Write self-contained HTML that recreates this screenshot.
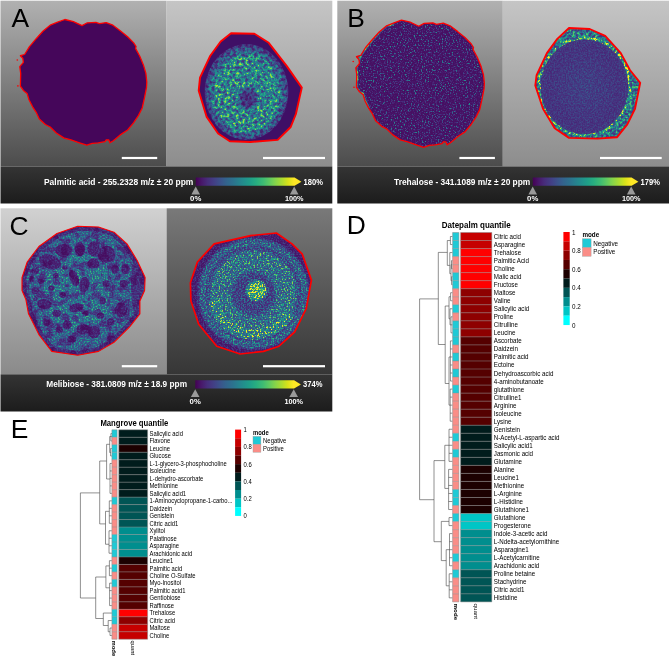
<!DOCTYPE html>
<html><head><meta charset="utf-8"><title>Figure</title>
<style>html,body{margin:0;padding:0;background:#fff;overflow:hidden}svg{display:block}</style></head>
<body>
<svg width="669" height="656" viewBox="0 0 669 656">
<defs>
<linearGradient id="gDark" x1="0" y1="0" x2="0" y2="1"><stop offset="0" stop-color="#b1b1b1"/><stop offset="1" stop-color="#4c4c4c"/></linearGradient>
<linearGradient id="gLight" x1="0" y1="0" x2="0" y2="1"><stop offset="0" stop-color="#c5c5c5"/><stop offset="1" stop-color="#8d8d8d"/></linearGradient>
<linearGradient id="gLightC" x1="0" y1="0" x2="0" y2="1"><stop offset="0" stop-color="#d1d1d1"/><stop offset="1" stop-color="#8a8a8a"/></linearGradient>
<linearGradient id="gDarkC" x1="0" y1="0" x2="0" y2="1"><stop offset="0" stop-color="#797979"/><stop offset="1" stop-color="#363636"/></linearGradient>
<linearGradient id="gBar" x1="0" y1="0" x2="0" y2="1"><stop offset="0" stop-color="#343434"/><stop offset="1" stop-color="#1c1c1c"/></linearGradient>
<linearGradient id="gVir" x1="0" y1="0" x2="0.93" y2="0"><stop offset="0" stop-color="#440154"/><stop offset="0.06" stop-color="#48186a"/><stop offset="0.12" stop-color="#472d7b"/><stop offset="0.19" stop-color="#424086"/><stop offset="0.25" stop-color="#3b528b"/><stop offset="0.31" stop-color="#33638d"/><stop offset="0.38" stop-color="#2c728e"/><stop offset="0.44" stop-color="#26828e"/><stop offset="0.5" stop-color="#21918c"/><stop offset="0.56" stop-color="#1fa088"/><stop offset="0.62" stop-color="#28ae80"/><stop offset="0.69" stop-color="#3fbc73"/><stop offset="0.75" stop-color="#5ec962"/><stop offset="0.81" stop-color="#84d44b"/><stop offset="0.88" stop-color="#addc30"/><stop offset="0.94" stop-color="#d8e219"/><stop offset="1" stop-color="#fde725"/></linearGradient>
<filter id="fB1" x="0" y="0" width="100%" height="100%" color-interpolation-filters="sRGB"><feTurbulence type="fractalNoise" baseFrequency="0.71" numOctaves="2" seed="3" result="t"/><feColorMatrix in="t" type="matrix" values="1.8 0 0 0 -0.4  1.8 0 0 0 -0.4  1.8 0 0 0 -0.4  0 0 0 0 1" result="n0"/><feComponentTransfer in="n0" result="n"><feFuncR type="gamma" exponent="5"/><feFuncG type="gamma" exponent="5"/><feFuncB type="gamma" exponent="5"/></feComponentTransfer><feOffset in="SourceGraphic" result="s"/><feComposite in="s" in2="n" operator="arithmetic" k1="0.85" k2="0.07" k3="0" k4="0" result="m"/><feComponentTransfer in="m" result="v"><feFuncR type="table" tableValues="0.267 0.277 0.282 0.283 0.279 0.271 0.259 0.245 0.230 0.214 0.199 0.186 0.173 0.161 0.149 0.138 0.128 0.121 0.121 0.132 0.158 0.197 0.246 0.304 0.369 0.440 0.516 0.596 0.678 0.762 0.846 0.926 0.993"/><feFuncG type="table" tableValues="0.005 0.050 0.095 0.136 0.175 0.214 0.252 0.288 0.322 0.356 0.388 0.419 0.449 0.479 0.508 0.537 0.567 0.596 0.626 0.655 0.684 0.712 0.739 0.765 0.789 0.811 0.831 0.849 0.864 0.876 0.887 0.897 0.906"/><feFuncB type="table" tableValues="0.329 0.376 0.417 0.453 0.483 0.507 0.525 0.537 0.546 0.551 0.555 0.557 0.558 0.558 0.557 0.555 0.551 0.544 0.533 0.520 0.502 0.479 0.452 0.420 0.383 0.341 0.294 0.243 0.190 0.137 0.100 0.104 0.144"/><feFuncA type="linear" slope="0" intercept="1"/></feComponentTransfer><feComposite in="v" in2="SourceAlpha" operator="in"/></filter>
<filter id="fA2" x="0" y="0" width="100%" height="100%" color-interpolation-filters="sRGB"><feTurbulence type="fractalNoise" baseFrequency="0.33" numOctaves="3" seed="7" result="t"/><feColorMatrix in="t" type="matrix" values="2.1 0 0 0 -0.55  2.1 0 0 0 -0.55  2.1 0 0 0 -0.55  0 0 0 0 1" result="n0"/><feComponentTransfer in="n0" result="n"><feFuncR type="gamma" exponent="1.4"/><feFuncG type="gamma" exponent="1.4"/><feFuncB type="gamma" exponent="1.4"/></feComponentTransfer><feOffset in="SourceGraphic" result="s"/><feComposite in="s" in2="n" operator="arithmetic" k1="1.2" k2="0.27" k3="0" k4="0" result="m"/><feComponentTransfer in="m" result="v"><feFuncR type="table" tableValues="0.267 0.277 0.282 0.283 0.279 0.271 0.259 0.245 0.230 0.214 0.199 0.186 0.173 0.161 0.149 0.138 0.128 0.121 0.121 0.132 0.158 0.197 0.246 0.304 0.369 0.440 0.516 0.596 0.678 0.762 0.846 0.926 0.993"/><feFuncG type="table" tableValues="0.005 0.050 0.095 0.136 0.175 0.214 0.252 0.288 0.322 0.356 0.388 0.419 0.449 0.479 0.508 0.537 0.567 0.596 0.626 0.655 0.684 0.712 0.739 0.765 0.789 0.811 0.831 0.849 0.864 0.876 0.887 0.897 0.906"/><feFuncB type="table" tableValues="0.329 0.376 0.417 0.453 0.483 0.507 0.525 0.537 0.546 0.551 0.555 0.557 0.558 0.558 0.557 0.555 0.551 0.544 0.533 0.520 0.502 0.479 0.452 0.420 0.383 0.341 0.294 0.243 0.190 0.137 0.100 0.104 0.144"/><feFuncA type="linear" slope="0" intercept="1"/></feComponentTransfer><feComposite in="v" in2="SourceAlpha" operator="in"/></filter>
<filter id="fB2" x="0" y="0" width="100%" height="100%" color-interpolation-filters="sRGB"><feTurbulence type="fractalNoise" baseFrequency="0.37" numOctaves="3" seed="11" result="t"/><feColorMatrix in="t" type="matrix" values="2.4 0 0 0 -0.7  2.4 0 0 0 -0.7  2.4 0 0 0 -0.7  0 0 0 0 1" result="n0"/><feComponentTransfer in="n0" result="n"><feFuncR type="gamma" exponent="1.4"/><feFuncG type="gamma" exponent="1.4"/><feFuncB type="gamma" exponent="1.4"/></feComponentTransfer><feOffset in="SourceGraphic" result="s"/><feComposite in="s" in2="n" operator="arithmetic" k1="1.2" k2="0.3" k3="0" k4="0" result="m"/><feComponentTransfer in="m" result="v"><feFuncR type="table" tableValues="0.267 0.277 0.282 0.283 0.279 0.271 0.259 0.245 0.230 0.214 0.199 0.186 0.173 0.161 0.149 0.138 0.128 0.121 0.121 0.132 0.158 0.197 0.246 0.304 0.369 0.440 0.516 0.596 0.678 0.762 0.846 0.926 0.993"/><feFuncG type="table" tableValues="0.005 0.050 0.095 0.136 0.175 0.214 0.252 0.288 0.322 0.356 0.388 0.419 0.449 0.479 0.508 0.537 0.567 0.596 0.626 0.655 0.684 0.712 0.739 0.765 0.789 0.811 0.831 0.849 0.864 0.876 0.887 0.897 0.906"/><feFuncB type="table" tableValues="0.329 0.376 0.417 0.453 0.483 0.507 0.525 0.537 0.546 0.551 0.555 0.557 0.558 0.558 0.557 0.555 0.551 0.544 0.533 0.520 0.502 0.479 0.452 0.420 0.383 0.341 0.294 0.243 0.190 0.137 0.100 0.104 0.144"/><feFuncA type="linear" slope="0" intercept="1"/></feComponentTransfer><feComposite in="v" in2="SourceAlpha" operator="in"/></filter>
<filter id="fB2i" x="0" y="0" width="100%" height="100%" color-interpolation-filters="sRGB"><feTurbulence type="fractalNoise" baseFrequency="0.63" numOctaves="2" seed="13" result="t"/><feColorMatrix in="t" type="matrix" values="2.2 0 0 0 -0.6  2.2 0 0 0 -0.6  2.2 0 0 0 -0.6  0 0 0 0 1" result="n0"/><feComponentTransfer in="n0" result="n"><feFuncR type="gamma" exponent="1.6"/><feFuncG type="gamma" exponent="1.6"/><feFuncB type="gamma" exponent="1.6"/></feComponentTransfer><feOffset in="SourceGraphic" result="s"/><feComposite in="s" in2="n" operator="arithmetic" k1="0.7" k2="0.65" k3="0" k4="0" result="m"/><feComponentTransfer in="m" result="v"><feFuncR type="table" tableValues="0.267 0.277 0.282 0.283 0.279 0.271 0.259 0.245 0.230 0.214 0.199 0.186 0.173 0.161 0.149 0.138 0.128 0.121 0.121 0.132 0.158 0.197 0.246 0.304 0.369 0.440 0.516 0.596 0.678 0.762 0.846 0.926 0.993"/><feFuncG type="table" tableValues="0.005 0.050 0.095 0.136 0.175 0.214 0.252 0.288 0.322 0.356 0.388 0.419 0.449 0.479 0.508 0.537 0.567 0.596 0.626 0.655 0.684 0.712 0.739 0.765 0.789 0.811 0.831 0.849 0.864 0.876 0.887 0.897 0.906"/><feFuncB type="table" tableValues="0.329 0.376 0.417 0.453 0.483 0.507 0.525 0.537 0.546 0.551 0.555 0.557 0.558 0.558 0.557 0.555 0.551 0.544 0.533 0.520 0.502 0.479 0.452 0.420 0.383 0.341 0.294 0.243 0.190 0.137 0.100 0.104 0.144"/><feFuncA type="linear" slope="0" intercept="1"/></feComponentTransfer><feComposite in="v" in2="SourceAlpha" operator="in"/></filter>
<filter id="fC2" x="0" y="0" width="100%" height="100%" color-interpolation-filters="sRGB"><feTurbulence type="fractalNoise" baseFrequency="0.63" numOctaves="2" seed="19" result="t"/><feColorMatrix in="t" type="matrix" values="2.6 0 0 0 -0.8  2.6 0 0 0 -0.8  2.6 0 0 0 -0.8  0 0 0 0 1" result="n0"/><feComponentTransfer in="n0" result="n"><feFuncR type="gamma" exponent="2.2"/><feFuncG type="gamma" exponent="2.2"/><feFuncB type="gamma" exponent="2.2"/></feComponentTransfer><feGaussianBlur in="SourceGraphic" stdDeviation="0.7" result="s"/><feComposite in="s" in2="n" operator="arithmetic" k1="1.35" k2="0.45" k3="0" k4="0" result="m"/><feComponentTransfer in="m" result="v"><feFuncR type="table" tableValues="0.267 0.277 0.282 0.283 0.279 0.271 0.259 0.245 0.230 0.214 0.199 0.186 0.173 0.161 0.149 0.138 0.128 0.121 0.121 0.132 0.158 0.197 0.246 0.304 0.369 0.440 0.516 0.596 0.678 0.762 0.846 0.926 0.993"/><feFuncG type="table" tableValues="0.005 0.050 0.095 0.136 0.175 0.214 0.252 0.288 0.322 0.356 0.388 0.419 0.449 0.479 0.508 0.537 0.567 0.596 0.626 0.655 0.684 0.712 0.739 0.765 0.789 0.811 0.831 0.849 0.864 0.876 0.887 0.897 0.906"/><feFuncB type="table" tableValues="0.329 0.376 0.417 0.453 0.483 0.507 0.525 0.537 0.546 0.551 0.555 0.557 0.558 0.558 0.557 0.555 0.551 0.544 0.533 0.520 0.502 0.479 0.452 0.420 0.383 0.341 0.294 0.243 0.190 0.137 0.100 0.104 0.144"/><feFuncA type="linear" slope="0" intercept="1"/></feComponentTransfer><feComposite in="v" in2="SourceAlpha" operator="in"/></filter>
<filter id="fC1" x="0" y="0" width="100%" height="100%" color-interpolation-filters="sRGB"><feTurbulence type="fractalNoise" baseFrequency="0.63" numOctaves="2" seed="23" result="t"/><feColorMatrix in="t" type="matrix" values="2.4 0 0 0 -0.7  2.4 0 0 0 -0.7  2.4 0 0 0 -0.7  0 0 0 0 1" result="n0"/><feComponentTransfer in="n0" result="n"><feFuncR type="gamma" exponent="2.2"/><feFuncG type="gamma" exponent="2.2"/><feFuncB type="gamma" exponent="2.2"/></feComponentTransfer><feGaussianBlur in="SourceGraphic" stdDeviation="0.7" result="s0"/><feTurbulence type="fractalNoise" baseFrequency="0.13" numOctaves="2" seed="5" result="bt"/><feColorMatrix in="bt" type="matrix" values="8 0 0 0 -3.1  8 0 0 0 -3.1  8 0 0 0 -3.1  0 0 0 0 1" result="b0"/><feComponentTransfer in="b0" result="b1"><feFuncR type="linear" slope="0.55" intercept="0.45"/><feFuncG type="linear" slope="0.55" intercept="0.45"/><feFuncB type="linear" slope="0.55" intercept="0.45"/></feComponentTransfer><feComposite in="s0" in2="b1" operator="arithmetic" k1="1" k2="0" k3="0" k4="0" result="s"/><feComposite in="s" in2="n" operator="arithmetic" k1="1" k2="0.6" k3="0" k4="0" result="m"/><feComponentTransfer in="m" result="v"><feFuncR type="table" tableValues="0.267 0.277 0.282 0.283 0.279 0.271 0.259 0.245 0.230 0.214 0.199 0.186 0.173 0.161 0.149 0.138 0.128 0.121 0.121 0.132 0.158 0.197 0.246 0.304 0.369 0.440 0.516 0.596 0.678 0.762 0.846 0.926 0.993"/><feFuncG type="table" tableValues="0.005 0.050 0.095 0.136 0.175 0.214 0.252 0.288 0.322 0.356 0.388 0.419 0.449 0.479 0.508 0.537 0.567 0.596 0.626 0.655 0.684 0.712 0.739 0.765 0.789 0.811 0.831 0.849 0.864 0.876 0.887 0.897 0.906"/><feFuncB type="table" tableValues="0.329 0.376 0.417 0.453 0.483 0.507 0.525 0.537 0.546 0.551 0.555 0.557 0.558 0.558 0.557 0.555 0.551 0.544 0.533 0.520 0.502 0.479 0.452 0.420 0.383 0.341 0.294 0.243 0.190 0.137 0.100 0.104 0.144"/><feFuncA type="linear" slope="0" intercept="1"/></feComponentTransfer><feComposite in="v" in2="SourceAlpha" operator="in"/></filter>
<radialGradient id="rA2" cx="0.5" cy="0.5" r="0.5" fx="0.52" fy="0.59"><stop offset="0" stop-color="#2a2a2a"/><stop offset="0.15" stop-color="#343434"/><stop offset="0.27" stop-color="#929292"/><stop offset="0.75" stop-color="#9a9a9a"/><stop offset="0.88" stop-color="#606060"/><stop offset="1" stop-color="#343434"/></radialGradient>
<radialGradient id="rB2" cx="0.5" cy="0.5" r="0.5"><stop offset="0" stop-color="#363636"/><stop offset="0.85" stop-color="#2a2a2a"/><stop offset="1" stop-color="#2e2e2e"/></radialGradient>
<radialGradient id="rC2" cx="0.5" cy="0.5" r="0.5"><stop offset="0" stop-color="#404040"/><stop offset="0.34" stop-color="#3c3c3c"/><stop offset="0.43" stop-color="#6e6e6e"/><stop offset="0.73" stop-color="#767676"/><stop offset="0.78" stop-color="#4a4a4a"/><stop offset="0.82" stop-color="#404040"/><stop offset="0.86" stop-color="#626262"/><stop offset="0.94" stop-color="#585858"/><stop offset="1" stop-color="#202020"/></radialGradient>
<radialGradient id="rC2c" cx="0.5" cy="0.5" r="0.5"><stop offset="0" stop-color="#e8e8e8"/><stop offset="0.6" stop-color="#c8c8c8"/><stop offset="0.85" stop-color="#8c8c8c"/><stop offset="1" stop-color="#4c4c4c"/></radialGradient>
<radialGradient id="rC1" cx="0.5" cy="0.5" r="0.5"><stop offset="0" stop-color="#909090"/><stop offset="0.8" stop-color="#808080"/><stop offset="0.93" stop-color="#606060"/><stop offset="1" stop-color="#383838"/></radialGradient>
<clipPath id="cA2"><polygon points="231.1,33.2 254.4,33.7 268.7,42.8 286.8,66.1 301.8,87.6 295.9,114 290.7,127 277.7,139.9 250.5,142 229.8,141.2 218.1,133.5 206.5,116.6 198.7,90.7 200,77.7 210.3,55.7 220.7,41.5"/></clipPath>
<clipPath id="cB1"><polygon points="401.48,20.05 410.08,22.18 418.79,26.22 424.15,23.39 432.85,22.98 436.5,24.3 443.28,23.19 450.06,25.82 457.45,31.38 464.94,37.56 471.11,43.73 473.54,47.48 472.93,49.3 477.28,57.29 480.92,65.99 483.45,74.6 484.37,83.3 484.06,88.66 482.14,98.58 479.71,109.61 475.97,117.1 471.11,124.49 464.94,131.88 457.45,136.83 452.59,141.09 450.06,143.01 447.02,144.83 445.81,141.79 443.28,141.79 442.06,143.62 435.28,144.83 429.11,145.44 423.65,147.26 416.26,144.83 407.66,141.79 400.27,139.87 392.78,134.91 386.61,128.84 381.75,126.31 375.58,120.74 372.44,113.96 368.8,108.4 365.05,101.01 363.23,94.84 359.48,91.8 356.45,87.45 356.75,74.6 355.84,67.82 359.48,63.46 358.88,59.21 356.45,56.68 360.7,55.47 365.66,47.48 372.44,39.48 379.22,31.99 386.61,25.82 394.1,22.78"/></clipPath>
<clipPath id="cB2"><polygon points="569,28 589.7,29 605.2,35.8 620.8,53.1 629.9,70 640.2,82.9 635,108.8 627.3,124.4 616.9,137.3 597.5,138.6 569,137.9 554.7,128.3 543,108.8 535.3,85.5 536.6,75.1 546.9,53.1 557.3,38.9"/></clipPath>
<clipPath id="cC1"><polygon points="77.7,226.2 98.5,227 114,232.2 127,243.9 137.3,260.7 145.1,277.6 144.6,290.5 139.9,300.9 139.9,313.8 129.6,326.8 114,342.3 98.5,351.4 77.7,355.3 51.8,351.4 38.9,334.6 28.5,313.8 25.9,299.6 22,290.5 22,277.6 27.2,262 38.9,246.5 57,233.5"/></clipPath>
<clipPath id="cC2"><polygon points="250.5,235.6 276.4,233 292,243.9 302.3,254.2 311.4,280.1 306.2,308.7 294.6,332 279,346.2 263.5,351.4 240.1,354 216.8,346.2 198.7,324.2 190.9,300.9 190.4,282.7 197.4,262 214.2,243.9"/></clipPath>
</defs>
<rect x="0.5" y="0.7" width="166.1" height="165.7" fill="url(#gDark)"/>
<rect x="166.6" y="0.7" width="165.7" height="165.7" fill="url(#gLight)"/>
<rect x="0.5" y="166.4" width="331.8" height="37.1" fill="url(#gBar)"/>
<polygon points="64.9,19.5 73.4,21.6 82,25.6 87.3,22.8 95.9,22.4 99.5,23.7 106.2,22.6 112.9,25.2 120.2,30.7 127.6,36.8 133.7,42.9 136.1,46.6 135.5,48.4 139.8,56.3 143.4,64.9 145.9,73.4 146.8,82 146.5,87.3 144.6,97.1 142.2,108 138.5,115.4 133.7,122.7 127.6,130 120.2,134.9 115.4,139.1 112.9,141 109.9,142.8 108.7,139.8 106.2,139.8 105,141.6 98.3,142.8 92.2,143.4 86.8,145.2 79.5,142.8 71,139.8 63.7,137.9 56.3,133 50.2,127 45.4,124.5 39.3,119 36.2,112.3 32.6,106.8 28.9,99.5 27.1,93.4 23.4,90.4 20.4,86.1 20.7,73.4 19.8,66.7 23.4,62.4 22.8,58.2 20.4,55.7 24.6,54.5 29.5,46.6 36.2,38.7 42.9,31.3 50.2,25.2 57.6,22.2" fill="#45065a" stroke="#ff0000" stroke-width="1.3" stroke-linejoin="round"/>
<circle cx="17.3" cy="60" r="0.8" fill="#ff0000"/><circle cx="17.9" cy="85.9" r="0.8" fill="#ff0000"/>
<polygon points="231.1,33.2 254.4,33.7 268.7,42.8 286.8,66.1 301.8,87.6 295.9,114 290.7,127 277.7,139.9 250.5,142 229.8,141.2 218.1,133.5 206.5,116.6 198.7,90.7 200,77.7 210.3,55.7 220.7,41.5" fill="#3f0f66"/>
<g clip-path="url(#cA2)"><g filter="url(#fA2)"><ellipse cx="246.5" cy="92" rx="42" ry="48" fill="url(#rA2)"/></g></g>
<polygon points="231.1,33.2 254.4,33.7 268.7,42.8 286.8,66.1 301.8,87.6 295.9,114 290.7,127 277.7,139.9 250.5,142 229.8,141.2 218.1,133.5 206.5,116.6 198.7,90.7 200,77.7 210.3,55.7 220.7,41.5" fill="none" stroke="#ff0000" stroke-width="1.9" stroke-linejoin="round"/>
<rect x="121.8" y="156.9" width="35.4" height="2.2" fill="#fff"/>
<rect x="263" y="156.9" width="62" height="2.2" fill="#fff"/>
<text x="11.4" y="26.8" font-size="26.4" font-family="Liberation Sans, sans-serif" fill="#000">A</text>
<text x="44" y="184.5" font-size="8.6" font-family="Liberation Sans, sans-serif" font-weight="bold" fill="#fff" textLength="149.3" lengthAdjust="spacingAndGlyphs">Palmitic acid - 255.2328 m/z ± 20 ppm</text>
<path d="M195.8 177.6H294.6L301.4 181.7L294.6 185.8H195.8Z" fill="url(#gVir)"/>
<path d="M195.7 186.6L200 194.4H191.4Z" fill="#9a9a9a"/>
<text x="195.7" y="201.2" font-size="8.1" text-anchor="middle" font-family="Liberation Sans, sans-serif" font-weight="bold" fill="#fff" textLength="11.2" lengthAdjust="spacingAndGlyphs">0%</text>
<path d="M294.2 186.6L298.5 194.4H289.9Z" fill="#9a9a9a"/>
<text x="294.2" y="201.2" font-size="8.1" text-anchor="middle" font-family="Liberation Sans, sans-serif" font-weight="bold" fill="#fff" textLength="18.6" lengthAdjust="spacingAndGlyphs">100%</text>
<text x="303.6" y="184.7" font-size="9" font-family="Liberation Sans, sans-serif" font-weight="bold" fill="#fff" textLength="19.4" lengthAdjust="spacingAndGlyphs">180%</text>
<rect x="337.3" y="0.7" width="165.5" height="165.7" fill="url(#gDark)"/>
<rect x="502.8" y="0.7" width="166.2" height="165.7" fill="url(#gLight)"/>
<rect x="337.3" y="166.4" width="331.7" height="37.1" fill="url(#gBar)"/>
<g filter="url(#fB1)"><polygon points="401.48,20.05 410.08,22.18 418.79,26.22 424.15,23.39 432.85,22.98 436.5,24.3 443.28,23.19 450.06,25.82 457.45,31.38 464.94,37.56 471.11,43.73 473.54,47.48 472.93,49.3 477.28,57.29 480.92,65.99 483.45,74.6 484.37,83.3 484.06,88.66 482.14,98.58 479.71,109.61 475.97,117.1 471.11,124.49 464.94,131.88 457.45,136.83 452.59,141.09 450.06,143.01 447.02,144.83 445.81,141.79 443.28,141.79 442.06,143.62 435.28,144.83 429.11,145.44 423.65,147.26 416.26,144.83 407.66,141.79 400.27,139.87 392.78,134.91 386.61,128.84 381.75,126.31 375.58,120.74 372.44,113.96 368.8,108.4 365.05,101.01 363.23,94.84 359.48,91.8 356.45,87.45 356.75,74.6 355.84,67.82 359.48,63.46 358.88,59.21 356.45,56.68 360.7,55.47 365.66,47.48 372.44,39.48 379.22,31.99 386.61,25.82 394.1,22.78" fill="#808080"/></g>
<g clip-path="url(#cB1)"><g filter="url(#fB2)"><polyline points="394.1,22.78 386.61,25.82 379.22,31.99 372.44,39.48 365.66,47.48 360.7,55.47 358.88,59.21 355.84,67.82 356.75,74.6 356.45,87.45 359.48,91.8 363.23,94.84 365.05,101.01 368.8,108.4" fill="none" stroke="#8c8c8c" stroke-width="3.4" stroke-linejoin="round"/></g></g>
<polygon points="401.48,20.05 410.08,22.18 418.79,26.22 424.15,23.39 432.85,22.98 436.5,24.3 443.28,23.19 450.06,25.82 457.45,31.38 464.94,37.56 471.11,43.73 473.54,47.48 472.93,49.3 477.28,57.29 480.92,65.99 483.45,74.6 484.37,83.3 484.06,88.66 482.14,98.58 479.71,109.61 475.97,117.1 471.11,124.49 464.94,131.88 457.45,136.83 452.59,141.09 450.06,143.01 447.02,144.83 445.81,141.79 443.28,141.79 442.06,143.62 435.28,144.83 429.11,145.44 423.65,147.26 416.26,144.83 407.66,141.79 400.27,139.87 392.78,134.91 386.61,128.84 381.75,126.31 375.58,120.74 372.44,113.96 368.8,108.4 365.05,101.01 363.23,94.84 359.48,91.8 356.45,87.45 356.75,74.6 355.84,67.82 359.48,63.46 358.88,59.21 356.45,56.68 360.7,55.47 365.66,47.48 372.44,39.48 379.22,31.99 386.61,25.82 394.1,22.78" fill="none" stroke="#ff0000" stroke-width="1.3" stroke-linejoin="round"/>
<circle cx="353.2" cy="61.5" r="0.8" fill="#ff0000"/><circle cx="354" cy="87.3" r="0.8" fill="#ff0000"/>
<g clip-path="url(#cB2)"><g filter="url(#fB2)"><rect x="530" y="24" width="114" height="118" fill="#7e7e7e"/><ellipse cx="584.5" cy="86.8" rx="45" ry="48.5" fill="none" stroke="#b8b8b8" stroke-width="3"/></g><g filter="url(#fB2i)"><ellipse cx="584.5" cy="86.8" rx="43.8" ry="47.3" fill="url(#rB2)"/></g></g>
<polygon points="569,28 589.7,29 605.2,35.8 620.8,53.1 629.9,70 640.2,82.9 635,108.8 627.3,124.4 616.9,137.3 597.5,138.6 569,137.9 554.7,128.3 543,108.8 535.3,85.5 536.6,75.1 546.9,53.1 557.3,38.9" fill="none" stroke="#ff0000" stroke-width="1.9" stroke-linejoin="round"/>
<rect x="459.4" y="156.9" width="35.5" height="2.2" fill="#fff"/>
<rect x="600" y="156.9" width="61.7" height="2.2" fill="#fff"/>
<text x="347.3" y="26.8" font-size="26.4" font-family="Liberation Sans, sans-serif" fill="#000">B</text>
<text x="394" y="184.5" font-size="8.6" font-family="Liberation Sans, sans-serif" font-weight="bold" fill="#fff" textLength="136.3" lengthAdjust="spacingAndGlyphs">Trehalose - 341.1089 m/z ± 20 ppm</text>
<path d="M532.8 177.6H631.6L638.4 181.7L631.6 185.8H532.8Z" fill="url(#gVir)"/>
<path d="M532.7 186.6L537 194.4H528.4Z" fill="#9a9a9a"/>
<text x="532.7" y="201.2" font-size="8.1" text-anchor="middle" font-family="Liberation Sans, sans-serif" font-weight="bold" fill="#fff" textLength="11.2" lengthAdjust="spacingAndGlyphs">0%</text>
<path d="M631.2 186.6L635.5 194.4H626.9Z" fill="#9a9a9a"/>
<text x="631.2" y="201.2" font-size="8.1" text-anchor="middle" font-family="Liberation Sans, sans-serif" font-weight="bold" fill="#fff" textLength="18.6" lengthAdjust="spacingAndGlyphs">100%</text>
<text x="640.6" y="184.7" font-size="9" font-family="Liberation Sans, sans-serif" font-weight="bold" fill="#fff" textLength="19.4" lengthAdjust="spacingAndGlyphs">179%</text>
<rect x="0.5" y="208.3" width="166.1" height="166" fill="url(#gLightC)"/>
<rect x="166.6" y="208.3" width="165.7" height="166" fill="url(#gDarkC)"/>
<rect x="0.5" y="374.3" width="331.8" height="37.2" fill="url(#gBar)"/>
<g clip-path="url(#cC1)"><g filter="url(#fC1)"><rect x="15" y="220" width="140" height="142" fill="#5e5e5e"/><ellipse cx="78" cy="292" rx="34" ry="38" fill="#747474" opacity="0.7"/><ellipse cx="63.74" cy="250.44" rx="8.73" ry="6.54" fill="#1e1e1e"/><ellipse cx="50.02" cy="261.88" rx="11.48" ry="7.09" fill="#1e1e1e" transform="rotate(20 50.02 261.88)"/><ellipse cx="79.75" cy="249.3" rx="5.16" ry="7.36" fill="#1e1e1e"/><ellipse cx="93.47" cy="248.84" rx="6.26" ry="7.36" fill="#1e1e1e"/><ellipse cx="106.5" cy="254.33" rx="8.73" ry="8.73" fill="#1e1e1e"/><ellipse cx="35.15" cy="271.03" rx="3.79" ry="3.24" fill="#1e1e1e"/><ellipse cx="74.03" cy="277.89" rx="4.34" ry="8.73" fill="#1e1e1e" transform="rotate(-20 74.03 277.89)"/><ellipse cx="84.32" cy="284.75" rx="5.16" ry="8.18" fill="#1e1e1e" transform="rotate(10 84.32 284.75)"/><ellipse cx="93.47" cy="263.48" rx="5.99" ry="5.16" fill="#1e1e1e"/><ellipse cx="115.19" cy="269.42" rx="3.79" ry="4.34" fill="#1e1e1e"/><ellipse cx="44.3" cy="304.18" rx="7.36" ry="5.16" fill="#1e1e1e" transform="rotate(10 44.3 304.18)"/><ellipse cx="35.15" cy="290.46" rx="3.79" ry="3.79" fill="#1e1e1e"/><ellipse cx="76.32" cy="307.61" rx="7.36" ry="4.34" fill="#1e1e1e" transform="rotate(-15 76.32 307.61)"/><ellipse cx="56.88" cy="313.33" rx="4.62" ry="3.79" fill="#1e1e1e"/><ellipse cx="67.17" cy="324.76" rx="4.62" ry="4.62" fill="#1e1e1e"/><ellipse cx="59.17" cy="329.8" rx="3.79" ry="3.24" fill="#1e1e1e"/><ellipse cx="83.18" cy="329.34" rx="7.09" ry="5.16" fill="#1e1e1e"/><ellipse cx="94.15" cy="332.08" rx="6.26" ry="6.26" fill="#1e1e1e"/><ellipse cx="120.91" cy="309.9" rx="6.26" ry="7.36" fill="#1e1e1e"/><ellipse cx="110.62" cy="321.79" rx="3.79" ry="3.79" fill="#1e1e1e"/><ellipse cx="102.61" cy="300.75" rx="3.24" ry="3.79" fill="#1e1e1e"/><ellipse cx="51.16" cy="288.18" rx="3.24" ry="2.7" fill="#1e1e1e"/><ellipse cx="40.87" cy="281.32" rx="3.24" ry="2.7" fill="#1e1e1e"/><ellipse cx="46.59" cy="322.48" rx="3.79" ry="3.24" fill="#1e1e1e"/><ellipse cx="71.74" cy="338.94" rx="4.62" ry="3.52" fill="#1e1e1e"/><ellipse cx="123.88" cy="283.6" rx="4.34" ry="3.79" fill="#1e1e1e"/><ellipse cx="125.48" cy="268.74" rx="4.34" ry="5.44" fill="#1e1e1e"/><ellipse cx="106.04" cy="283.6" rx="3.79" ry="3.24" fill="#1e1e1e"/><ellipse cx="100.33" cy="315.62" rx="3.79" ry="3.24" fill="#1e1e1e"/><ellipse cx="85.46" cy="313.33" rx="3.24" ry="2.7" fill="#1e1e1e"/><ellipse cx="110.62" cy="338.49" rx="4.34" ry="3.24" fill="#1e1e1e"/><ellipse cx="62.6" cy="295.04" rx="3.24" ry="2.97" fill="#1e1e1e"/><ellipse cx="31.72" cy="279.03" rx="2.7" ry="3.24" fill="#1e1e1e"/><ellipse cx="55.74" cy="275.6" rx="3.24" ry="2.7" fill="#1e1e1e"/><ellipse cx="64.88" cy="267.6" rx="2.97" ry="2.42" fill="#1e1e1e"/><polygon points="77.7,226.2 98.5,227 114,232.2 127,243.9 137.3,260.7 145.1,277.6 144.6,290.5 139.9,300.9 139.9,313.8 129.6,326.8 114,342.3 98.5,351.4 77.7,355.3 51.8,351.4 38.9,334.6 28.5,313.8 25.9,299.6 22,290.5 22,277.6 27.2,262 38.9,246.5 57,233.5" fill="none" stroke="#262626" stroke-width="9" stroke-linejoin="round"/><ellipse cx="140" cy="285" rx="9" ry="38" fill="#2a2a2a"/></g></g>
<polygon points="77.7,226.2 98.5,227 114,232.2 127,243.9 137.3,260.7 145.1,277.6 144.6,290.5 139.9,300.9 139.9,313.8 129.6,326.8 114,342.3 98.5,351.4 77.7,355.3 51.8,351.4 38.9,334.6 28.5,313.8 25.9,299.6 22,290.5 22,277.6 27.2,262 38.9,246.5 57,233.5" fill="none" stroke="#ff0000" stroke-width="1.1" stroke-linejoin="round"/>
<g clip-path="url(#cC2)"><g filter="url(#fC2)"><rect x="185" y="228" width="132" height="130" fill="#1c1c1c"/><circle cx="253.6" cy="293.7" r="57" fill="url(#rC2)"/><path d="M213 300A41 41 0 0 0 290 312" fill="none" stroke="#a4a4a4" stroke-width="11" opacity="0.6"/><circle cx="256.4" cy="290.7" r="11.5" fill="url(#rC2c)"/></g></g>
<polygon points="250.5,235.6 276.4,233 292,243.9 302.3,254.2 311.4,280.1 306.2,308.7 294.6,332 279,346.2 263.5,351.4 240.1,354 216.8,346.2 198.7,324.2 190.9,300.9 190.4,282.7 197.4,262 214.2,243.9" fill="none" stroke="#ff0000" stroke-width="1.7" stroke-linejoin="round"/>
<rect x="121.8" y="365.1" width="35.4" height="2.2" fill="#fff"/>
<rect x="263" y="365.1" width="62" height="2.2" fill="#fff"/>
<text x="9.6" y="234.8" font-size="26.4" font-family="Liberation Sans, sans-serif" fill="#000">C</text>
<text x="46.3" y="387.2" font-size="8.6" font-family="Liberation Sans, sans-serif" font-weight="bold" fill="#fff" textLength="140.7" lengthAdjust="spacingAndGlyphs">Melibiose - 381.0809 m/z ± 18.9 ppm</text>
<path d="M195.3 380.3H294.1L300.9 384.4L294.1 388.5H195.3Z" fill="url(#gVir)"/>
<path d="M195.2 389.3L199.5 397.1H190.9Z" fill="#9a9a9a"/>
<text x="195.2" y="403.9" font-size="8.1" text-anchor="middle" font-family="Liberation Sans, sans-serif" font-weight="bold" fill="#fff" textLength="11.2" lengthAdjust="spacingAndGlyphs">0%</text>
<path d="M293.7 389.3L298 397.1H289.4Z" fill="#9a9a9a"/>
<text x="293.7" y="403.9" font-size="8.1" text-anchor="middle" font-family="Liberation Sans, sans-serif" font-weight="bold" fill="#fff" textLength="18.6" lengthAdjust="spacingAndGlyphs">100%</text>
<text x="303.1" y="387.4" font-size="9" font-family="Liberation Sans, sans-serif" font-weight="bold" fill="#fff" textLength="19.4" lengthAdjust="spacingAndGlyphs">374%</text>
<text x="346.8" y="234.4" font-size="26.4" font-family="Liberation Sans, sans-serif" fill="#000">D</text>
<text x="10.8" y="438" font-size="26.4" font-family="Liberation Sans, sans-serif" fill="#000">E</text>
<path d="M438.3 298.9H419.6V499.7H434M447.3 252.4H438.3V344.5H445.2M450.4 240.53H447.3V265.4H449.8M452.5 236.51H450.4V244.54H452.5M452.5 252.57H449.8V273.65H451M451.5 264.62H451V280.68H451.6M452.5 260.61H451.5V268.63H452.5M452.5 276.67H451.6V284.69H452.5M449 306H445.2V383.5H449M450.6 296.74H449V318.81H450M452.5 292.73H450.6V300.75H452.5M452.5 308.78H450V324.85H451M452.5 316.81H451V332.88H452.5M451 324.85H452.5M450.4 356.96H449V405.14H450.2M452.5 340.9H450.4V381.05H452.5M450.4 348.94H452.5M450.4 356.96H452.5M450.4 365H452.5M450.4 373.02H452.5M452.5 389.08H450.2V421.2H452.5M450.2 397.12H452.5M450.2 405.14H452.5M450.2 413.17H452.5M444.8 460.6H434V541.7H441.3M449 445.29H444.8V488.44H448.6M452.5 429.24H449V461.36H452.5M449 437.26H452.5M449 445.29H452.5M449 453.32H452.5M452.5 469.38H448.6V509.53H452.5M448.6 477.41H452.5M448.6 485.44H452.5M448.6 493.47H452.5M448.6 501.5H452.5M449 521.4H441.3V560.6H446.2M452.5 517.57H449V525.6H452.5M449.5 549.68H446.2V585.8H449.2M452.5 533.62H449.5V565.74H452.5M449.5 541.65H452.5M449.5 549.68H452.5M449.5 557.71H452.5M452.5 573.77H449.2V597.87H452.5M449.2 581.8H452.5M449.2 589.84H452.5" fill="none" stroke="#4a4a4a" stroke-width="0.62"/>
<rect x="452.6" y="232.5" width="6.3" height="8.03" fill="#1fcad6"/>
<rect x="460.6" y="232.5" width="31.2" height="8.03" fill="#c60000"/>
<rect x="452.6" y="240.53" width="6.3" height="8.03" fill="#1fcad6"/>
<rect x="460.6" y="240.53" width="31.2" height="8.03" fill="#c60000"/>
<rect x="452.6" y="248.56" width="6.3" height="8.03" fill="#1fcad6"/>
<rect x="460.6" y="248.56" width="31.2" height="8.03" fill="#ff0000"/>
<rect x="452.6" y="256.59" width="6.3" height="8.03" fill="#fa8d87"/>
<rect x="460.6" y="256.59" width="31.2" height="8.03" fill="#ff0000"/>
<rect x="452.6" y="264.62" width="6.3" height="8.03" fill="#fa8d87"/>
<rect x="460.6" y="264.62" width="31.2" height="8.03" fill="#ff0000"/>
<rect x="452.6" y="272.65" width="6.3" height="8.03" fill="#1fcad6"/>
<rect x="460.6" y="272.65" width="31.2" height="8.03" fill="#ff0000"/>
<rect x="452.6" y="280.68" width="6.3" height="8.03" fill="#1fcad6"/>
<rect x="460.6" y="280.68" width="31.2" height="8.03" fill="#ff0000"/>
<rect x="452.6" y="288.71" width="6.3" height="8.03" fill="#fa8d87"/>
<rect x="460.6" y="288.71" width="31.2" height="8.03" fill="#8e0000"/>
<rect x="452.6" y="296.74" width="6.3" height="8.03" fill="#fa8d87"/>
<rect x="460.6" y="296.74" width="31.2" height="8.03" fill="#8e0000"/>
<rect x="452.6" y="304.77" width="6.3" height="8.03" fill="#1fcad6"/>
<rect x="460.6" y="304.77" width="31.2" height="8.03" fill="#8e0000"/>
<rect x="452.6" y="312.8" width="6.3" height="8.03" fill="#fa8d87"/>
<rect x="460.6" y="312.8" width="31.2" height="8.03" fill="#8e0000"/>
<rect x="452.6" y="320.83" width="6.3" height="8.03" fill="#1fcad6"/>
<rect x="460.6" y="320.83" width="31.2" height="8.03" fill="#8e0000"/>
<rect x="452.6" y="328.86" width="6.3" height="8.03" fill="#1fcad6"/>
<rect x="460.6" y="328.86" width="31.2" height="8.03" fill="#8e0000"/>
<rect x="452.6" y="336.89" width="6.3" height="8.03" fill="#1fcad6"/>
<rect x="460.6" y="336.89" width="31.2" height="8.03" fill="#550000"/>
<rect x="452.6" y="344.92" width="6.3" height="8.03" fill="#fa8d87"/>
<rect x="460.6" y="344.92" width="31.2" height="8.03" fill="#550000"/>
<rect x="452.6" y="352.95" width="6.3" height="8.03" fill="#1fcad6"/>
<rect x="460.6" y="352.95" width="31.2" height="8.03" fill="#550000"/>
<rect x="452.6" y="360.98" width="6.3" height="8.03" fill="#fa8d87"/>
<rect x="460.6" y="360.98" width="31.2" height="8.03" fill="#550000"/>
<rect x="452.6" y="369.01" width="6.3" height="8.03" fill="#1fcad6"/>
<rect x="460.6" y="369.01" width="31.2" height="8.03" fill="#550000"/>
<rect x="452.6" y="377.04" width="6.3" height="8.03" fill="#fa8d87"/>
<rect x="460.6" y="377.04" width="31.2" height="8.03" fill="#550000"/>
<rect x="452.6" y="385.07" width="6.3" height="8.03" fill="#1fcad6"/>
<rect x="460.6" y="385.07" width="31.2" height="8.03" fill="#550000"/>
<rect x="452.6" y="393.1" width="6.3" height="8.03" fill="#fa8d87"/>
<rect x="460.6" y="393.1" width="31.2" height="8.03" fill="#550000"/>
<rect x="452.6" y="401.13" width="6.3" height="8.03" fill="#fa8d87"/>
<rect x="460.6" y="401.13" width="31.2" height="8.03" fill="#550000"/>
<rect x="452.6" y="409.16" width="6.3" height="8.03" fill="#fa8d87"/>
<rect x="460.6" y="409.16" width="31.2" height="8.03" fill="#550000"/>
<rect x="452.6" y="417.19" width="6.3" height="8.03" fill="#fa8d87"/>
<rect x="460.6" y="417.19" width="31.2" height="8.03" fill="#550000"/>
<rect x="452.6" y="425.22" width="6.3" height="8.03" fill="#fa8d87"/>
<rect x="460.6" y="425.22" width="31.2" height="8.03" fill="#001c1c"/>
<rect x="452.6" y="433.25" width="6.3" height="8.03" fill="#1fcad6"/>
<rect x="460.6" y="433.25" width="31.2" height="8.03" fill="#001c1c"/>
<rect x="452.6" y="441.28" width="6.3" height="8.03" fill="#fa8d87"/>
<rect x="460.6" y="441.28" width="31.2" height="8.03" fill="#001c1c"/>
<rect x="452.6" y="449.31" width="6.3" height="8.03" fill="#1fcad6"/>
<rect x="460.6" y="449.31" width="31.2" height="8.03" fill="#001c1c"/>
<rect x="452.6" y="457.34" width="6.3" height="8.03" fill="#fa8d87"/>
<rect x="460.6" y="457.34" width="31.2" height="8.03" fill="#001c1c"/>
<rect x="452.6" y="465.37" width="6.3" height="8.03" fill="#fa8d87"/>
<rect x="460.6" y="465.37" width="31.2" height="8.03" fill="#1c0000"/>
<rect x="452.6" y="473.4" width="6.3" height="8.03" fill="#fa8d87"/>
<rect x="460.6" y="473.4" width="31.2" height="8.03" fill="#1c0000"/>
<rect x="452.6" y="481.43" width="6.3" height="8.03" fill="#fa8d87"/>
<rect x="460.6" y="481.43" width="31.2" height="8.03" fill="#1c0000"/>
<rect x="452.6" y="489.46" width="6.3" height="8.03" fill="#1fcad6"/>
<rect x="460.6" y="489.46" width="31.2" height="8.03" fill="#1c0000"/>
<rect x="452.6" y="497.49" width="6.3" height="8.03" fill="#1fcad6"/>
<rect x="460.6" y="497.49" width="31.2" height="8.03" fill="#1c0000"/>
<rect x="452.6" y="505.52" width="6.3" height="8.03" fill="#fa8d87"/>
<rect x="460.6" y="505.52" width="31.2" height="8.03" fill="#1c0000"/>
<rect x="452.6" y="513.55" width="6.3" height="8.03" fill="#1fcad6"/>
<rect x="460.6" y="513.55" width="31.2" height="8.03" fill="#00c6c6"/>
<rect x="452.6" y="521.58" width="6.3" height="8.03" fill="#fa8d87"/>
<rect x="460.6" y="521.58" width="31.2" height="8.03" fill="#00c6c6"/>
<rect x="452.6" y="529.61" width="6.3" height="8.03" fill="#fa8d87"/>
<rect x="460.6" y="529.61" width="31.2" height="8.03" fill="#008e8e"/>
<rect x="452.6" y="537.64" width="6.3" height="8.03" fill="#fa8d87"/>
<rect x="460.6" y="537.64" width="31.2" height="8.03" fill="#008e8e"/>
<rect x="452.6" y="545.67" width="6.3" height="8.03" fill="#fa8d87"/>
<rect x="460.6" y="545.67" width="31.2" height="8.03" fill="#008e8e"/>
<rect x="452.6" y="553.7" width="6.3" height="8.03" fill="#1fcad6"/>
<rect x="460.6" y="553.7" width="31.2" height="8.03" fill="#008e8e"/>
<rect x="452.6" y="561.73" width="6.3" height="8.03" fill="#fa8d87"/>
<rect x="460.6" y="561.73" width="31.2" height="8.03" fill="#008e8e"/>
<rect x="452.6" y="569.76" width="6.3" height="8.03" fill="#1fcad6"/>
<rect x="460.6" y="569.76" width="31.2" height="8.03" fill="#005555"/>
<rect x="452.6" y="577.79" width="6.3" height="8.03" fill="#fa8d87"/>
<rect x="460.6" y="577.79" width="31.2" height="8.03" fill="#005555"/>
<rect x="452.6" y="585.82" width="6.3" height="8.03" fill="#fa8d87"/>
<rect x="460.6" y="585.82" width="31.2" height="8.03" fill="#005555"/>
<rect x="452.6" y="593.85" width="6.3" height="8.03" fill="#fa8d87"/>
<rect x="460.6" y="593.85" width="31.2" height="8.03" fill="#005555"/>
<path d="M452.6 232.5H458.9M460.6 232.5H491.8M452.6 240.53H458.9M460.6 240.53H491.8M452.6 248.56H458.9M460.6 248.56H491.8M452.6 256.59H458.9M460.6 256.59H491.8M452.6 264.62H458.9M460.6 264.62H491.8M452.6 272.65H458.9M460.6 272.65H491.8M452.6 280.68H458.9M460.6 280.68H491.8M452.6 288.71H458.9M460.6 288.71H491.8M452.6 296.74H458.9M460.6 296.74H491.8M452.6 304.77H458.9M460.6 304.77H491.8M452.6 312.8H458.9M460.6 312.8H491.8M452.6 320.83H458.9M460.6 320.83H491.8M452.6 328.86H458.9M460.6 328.86H491.8M452.6 336.89H458.9M460.6 336.89H491.8M452.6 344.92H458.9M460.6 344.92H491.8M452.6 352.95H458.9M460.6 352.95H491.8M452.6 360.98H458.9M460.6 360.98H491.8M452.6 369.01H458.9M460.6 369.01H491.8M452.6 377.04H458.9M460.6 377.04H491.8M452.6 385.07H458.9M460.6 385.07H491.8M452.6 393.1H458.9M460.6 393.1H491.8M452.6 401.13H458.9M460.6 401.13H491.8M452.6 409.16H458.9M460.6 409.16H491.8M452.6 417.19H458.9M460.6 417.19H491.8M452.6 425.22H458.9M460.6 425.22H491.8M452.6 433.25H458.9M460.6 433.25H491.8M452.6 441.28H458.9M460.6 441.28H491.8M452.6 449.31H458.9M460.6 449.31H491.8M452.6 457.34H458.9M460.6 457.34H491.8M452.6 465.37H458.9M460.6 465.37H491.8M452.6 473.4H458.9M460.6 473.4H491.8M452.6 481.43H458.9M460.6 481.43H491.8M452.6 489.46H458.9M460.6 489.46H491.8M452.6 497.49H458.9M460.6 497.49H491.8M452.6 505.52H458.9M460.6 505.52H491.8M452.6 513.55H458.9M460.6 513.55H491.8M452.6 521.58H458.9M460.6 521.58H491.8M452.6 529.61H458.9M460.6 529.61H491.8M452.6 537.64H458.9M460.6 537.64H491.8M452.6 545.67H458.9M460.6 545.67H491.8M452.6 553.7H458.9M460.6 553.7H491.8M452.6 561.73H458.9M460.6 561.73H491.8M452.6 569.76H458.9M460.6 569.76H491.8M452.6 577.79H458.9M460.6 577.79H491.8M452.6 585.82H458.9M460.6 585.82H491.8M452.6 593.85H458.9M460.6 593.85H491.8M452.6 601.88H458.9M460.6 601.88H491.8M452.6 232.5V601.88M458.9 232.5V601.88M460.6 232.5V601.88M491.8 232.5V601.88" fill="none" stroke="#8a8a8a" stroke-width="0.5"/>
<g font-size="7.13" font-family="Liberation Sans, sans-serif" fill="#000">
<text transform="matrix(0.87 0 0 1 493.8 239.01)">Citric acid</text>
<text transform="matrix(0.87 0 0 1 493.8 247.04)">Asparagine</text>
<text transform="matrix(0.87 0 0 1 493.8 255.07)">Trehalose</text>
<text transform="matrix(0.87 0 0 1 493.8 263.1)">Palmitic Acid</text>
<text transform="matrix(0.87 0 0 1 493.8 271.13)">Choline</text>
<text transform="matrix(0.87 0 0 1 493.8 279.16)">Malic acid</text>
<text transform="matrix(0.87 0 0 1 493.8 287.19)">Fructose</text>
<text transform="matrix(0.87 0 0 1 493.8 295.22)">Maltose</text>
<text transform="matrix(0.87 0 0 1 493.8 303.25)">Valine</text>
<text transform="matrix(0.87 0 0 1 493.8 311.28)">Salicylic acid</text>
<text transform="matrix(0.87 0 0 1 493.8 319.31)">Proline</text>
<text transform="matrix(0.87 0 0 1 493.8 327.34)">Citrulline</text>
<text transform="matrix(0.87 0 0 1 493.8 335.37)">Leucine</text>
<text transform="matrix(0.87 0 0 1 493.8 343.4)">Ascorbate</text>
<text transform="matrix(0.87 0 0 1 493.8 351.43)">Daidzein</text>
<text transform="matrix(0.87 0 0 1 493.8 359.46)">Palmitic acid</text>
<text transform="matrix(0.87 0 0 1 493.8 367.49)">Ectoine</text>
<text transform="matrix(0.87 0 0 1 493.8 375.52)">Dehydroascorbic acid</text>
<text transform="matrix(0.87 0 0 1 493.8 383.55)">4-aminobutanoate</text>
<text transform="matrix(0.87 0 0 1 493.8 391.58)">glutathione</text>
<text transform="matrix(0.87 0 0 1 493.8 399.61)">Citrulline1</text>
<text transform="matrix(0.87 0 0 1 493.8 407.64)">Arginine</text>
<text transform="matrix(0.87 0 0 1 493.8 415.67)">Isoleucine</text>
<text transform="matrix(0.87 0 0 1 493.8 423.7)">Lysine</text>
<text transform="matrix(0.87 0 0 1 493.8 431.73)">Genistein</text>
<text transform="matrix(0.87 0 0 1 493.8 439.76)">N-Acetyl-L-aspartic acid</text>
<text transform="matrix(0.87 0 0 1 493.8 447.79)">Salicylic acid1</text>
<text transform="matrix(0.87 0 0 1 493.8 455.82)">Jasmonic acid</text>
<text transform="matrix(0.87 0 0 1 493.8 463.85)">Glutamine</text>
<text transform="matrix(0.87 0 0 1 493.8 471.88)">Alanine</text>
<text transform="matrix(0.87 0 0 1 493.8 479.91)">Leucine1</text>
<text transform="matrix(0.87 0 0 1 493.8 487.94)">Methionine</text>
<text transform="matrix(0.87 0 0 1 493.8 495.97)">L-Arginine</text>
<text transform="matrix(0.87 0 0 1 493.8 504)">L-Histidine</text>
<text transform="matrix(0.87 0 0 1 493.8 512.03)">Glutathione1</text>
<text transform="matrix(0.87 0 0 1 493.8 520.06)">Glutathione</text>
<text transform="matrix(0.87 0 0 1 493.8 528.09)">Progesterone</text>
<text transform="matrix(0.87 0 0 1 493.8 536.12)">Indole-3-acetic acid</text>
<text transform="matrix(0.87 0 0 1 493.8 544.15)">L-Ndelta-acetylornithine</text>
<text transform="matrix(0.87 0 0 1 493.8 552.18)">Asparagine1</text>
<text transform="matrix(0.87 0 0 1 493.8 560.21)">L-Acetylcarnitine</text>
<text transform="matrix(0.87 0 0 1 493.8 568.24)">Arachidonic acid</text>
<text transform="matrix(0.87 0 0 1 493.8 576.27)">Proline betaine</text>
<text transform="matrix(0.87 0 0 1 493.8 584.3)">Stachydrine</text>
<text transform="matrix(0.87 0 0 1 493.8 592.33)">Citric acid1</text>
<text transform="matrix(0.87 0 0 1 493.8 600.36)">Histidine</text>
</g>
<g font-size="9.2" font-family="Liberation Sans, sans-serif" fill="#000">
<text transform="matrix(0.87 0 0 1 441.8 228.2)" font-weight="bold">Datepalm quantile</text>
</g>
<text transform="translate(453.6 603.6) rotate(90)" font-size="6.2" font-weight="bold" font-family="Liberation Sans, sans-serif">mode</text>
<text transform="translate(474 603.6) rotate(90)" font-size="6.2" font-family="Liberation Sans, sans-serif">quant</text>
<rect x="563.4" y="232" width="6.3" height="9.35" fill="#ff0000"/>
<rect x="563.4" y="241.3" width="6.3" height="9.35" fill="#c60000"/>
<rect x="563.4" y="250.6" width="6.3" height="9.35" fill="#8e0000"/>
<rect x="563.4" y="259.9" width="6.3" height="9.35" fill="#550000"/>
<rect x="563.4" y="269.2" width="6.3" height="9.35" fill="#1c0000"/>
<rect x="563.4" y="278.5" width="6.3" height="9.35" fill="#001c1c"/>
<rect x="563.4" y="287.8" width="6.3" height="9.35" fill="#005555"/>
<rect x="563.4" y="297.1" width="6.3" height="9.35" fill="#008e8e"/>
<rect x="563.4" y="306.4" width="6.3" height="9.35" fill="#00c6c6"/>
<rect x="563.4" y="315.7" width="6.3" height="9.35" fill="#00ffff"/>
<g font-size="7.24" font-family="Liberation Sans, sans-serif" fill="#000">
<text transform="matrix(0.87 0 0 1 572.1 234.61)">1</text>
<text transform="matrix(0.87 0 0 1 572.1 253.21)">0.8</text>
<text transform="matrix(0.87 0 0 1 572.1 271.81)">0.6</text>
<text transform="matrix(0.87 0 0 1 572.1 290.41)">0.4</text>
<text transform="matrix(0.87 0 0 1 572.1 309.01)">0.2</text>
<text transform="matrix(0.87 0 0 1 572.1 327.61)">0</text>
<text transform="matrix(0.87 0 0 1 582.4 237.21)" font-weight="bold">mode</text>
<rect x="582.4" y="238.8" width="8.7" height="8.7" fill="#1fcad6" stroke="#9a9a9a" stroke-width="0.4"/>
<rect x="582.4" y="247.5" width="8.7" height="8.7" fill="#fa8d87" stroke="#9a9a9a" stroke-width="0.4"/>
<text transform="matrix(0.87 0 0 1 593.3 245.76)">Negative</text>
<text transform="matrix(0.87 0 0 1 593.3 254.46)">Positive</text>
</g>
<path d="M99.7 492.9H80.4V598H95.7M106.6 461H99.7V523.9H105.5M109.7 444.3H106.6V479H110M111.9 436.54H109.7V452.5H110.6M111.9 448.5H110.6V455.98H111.9M111.9 433.54H110.9V441.02H111.9M111.9 463.46H110V493.38H111.9M110 470.94H111.9M110 478.42H111.9M110 485.9H111.9M109.3 511.34H105.5V544.26H109M111.9 500.86H109.3V523.3H111.9M109.3 508.34H111.9M109.3 515.82H111.9M111.9 530.78H109V553.22H111.9M109 538.26H111.9M109 545.74H111.9M105.9 577H95.7V618.5H103.3M109.4 565.9H105.9V587.8H109.6M111.9 560.7H109.4V575.66H111.9M109.4 568.18H111.9M111.9 583.14H109.6V605.58H111.9M109.6 590.62H111.9M109.6 598.1H111.9M111.9 613.06H103.3V625.5H108.2M111.9 620.54H108.2V631.76H110M111.9 628.02H110V635.5H111.9" fill="none" stroke="#4a4a4a" stroke-width="0.62"/>
<rect x="111.9" y="429.8" width="5.2" height="7.48" fill="#1fcad6"/>
<rect x="118.8" y="429.8" width="28.8" height="7.48" fill="#001c1c"/>
<rect x="111.9" y="437.28" width="5.2" height="7.48" fill="#fa8d87"/>
<rect x="118.8" y="437.28" width="28.8" height="7.48" fill="#001c1c"/>
<rect x="111.9" y="444.76" width="5.2" height="7.48" fill="#1fcad6"/>
<rect x="118.8" y="444.76" width="28.8" height="7.48" fill="#1c0000"/>
<rect x="111.9" y="452.24" width="5.2" height="7.48" fill="#1fcad6"/>
<rect x="118.8" y="452.24" width="28.8" height="7.48" fill="#001c1c"/>
<rect x="111.9" y="459.72" width="5.2" height="7.48" fill="#fa8d87"/>
<rect x="118.8" y="459.72" width="28.8" height="7.48" fill="#001c1c"/>
<rect x="111.9" y="467.2" width="5.2" height="7.48" fill="#fa8d87"/>
<rect x="118.8" y="467.2" width="28.8" height="7.48" fill="#001c1c"/>
<rect x="111.9" y="474.68" width="5.2" height="7.48" fill="#fa8d87"/>
<rect x="118.8" y="474.68" width="28.8" height="7.48" fill="#001c1c"/>
<rect x="111.9" y="482.16" width="5.2" height="7.48" fill="#fa8d87"/>
<rect x="118.8" y="482.16" width="28.8" height="7.48" fill="#001c1c"/>
<rect x="111.9" y="489.64" width="5.2" height="7.48" fill="#fa8d87"/>
<rect x="118.8" y="489.64" width="28.8" height="7.48" fill="#001c1c"/>
<rect x="111.9" y="497.12" width="5.2" height="7.48" fill="#1fcad6"/>
<rect x="118.8" y="497.12" width="28.8" height="7.48" fill="#005555"/>
<rect x="111.9" y="504.6" width="5.2" height="7.48" fill="#fa8d87"/>
<rect x="118.8" y="504.6" width="28.8" height="7.48" fill="#005555"/>
<rect x="111.9" y="512.08" width="5.2" height="7.48" fill="#fa8d87"/>
<rect x="118.8" y="512.08" width="28.8" height="7.48" fill="#005555"/>
<rect x="111.9" y="519.56" width="5.2" height="7.48" fill="#fa8d87"/>
<rect x="118.8" y="519.56" width="28.8" height="7.48" fill="#005555"/>
<rect x="111.9" y="527.04" width="5.2" height="7.48" fill="#fa8d87"/>
<rect x="118.8" y="527.04" width="28.8" height="7.48" fill="#008e8e"/>
<rect x="111.9" y="534.52" width="5.2" height="7.48" fill="#1fcad6"/>
<rect x="118.8" y="534.52" width="28.8" height="7.48" fill="#008e8e"/>
<rect x="111.9" y="542" width="5.2" height="7.48" fill="#1fcad6"/>
<rect x="118.8" y="542" width="28.8" height="7.48" fill="#008e8e"/>
<rect x="111.9" y="549.48" width="5.2" height="7.48" fill="#1fcad6"/>
<rect x="118.8" y="549.48" width="28.8" height="7.48" fill="#008e8e"/>
<rect x="111.9" y="556.96" width="5.2" height="7.48" fill="#fa8d87"/>
<rect x="118.8" y="556.96" width="28.8" height="7.48" fill="#1c0000"/>
<rect x="111.9" y="564.44" width="5.2" height="7.48" fill="#1fcad6"/>
<rect x="118.8" y="564.44" width="28.8" height="7.48" fill="#550000"/>
<rect x="111.9" y="571.92" width="5.2" height="7.48" fill="#fa8d87"/>
<rect x="118.8" y="571.92" width="28.8" height="7.48" fill="#550000"/>
<rect x="111.9" y="579.4" width="5.2" height="7.48" fill="#1fcad6"/>
<rect x="118.8" y="579.4" width="28.8" height="7.48" fill="#550000"/>
<rect x="111.9" y="586.88" width="5.2" height="7.48" fill="#fa8d87"/>
<rect x="118.8" y="586.88" width="28.8" height="7.48" fill="#550000"/>
<rect x="111.9" y="594.36" width="5.2" height="7.48" fill="#fa8d87"/>
<rect x="118.8" y="594.36" width="28.8" height="7.48" fill="#550000"/>
<rect x="111.9" y="601.84" width="5.2" height="7.48" fill="#fa8d87"/>
<rect x="118.8" y="601.84" width="28.8" height="7.48" fill="#550000"/>
<rect x="111.9" y="609.32" width="5.2" height="7.48" fill="#1fcad6"/>
<rect x="118.8" y="609.32" width="28.8" height="7.48" fill="#ff0000"/>
<rect x="111.9" y="616.8" width="5.2" height="7.48" fill="#1fcad6"/>
<rect x="118.8" y="616.8" width="28.8" height="7.48" fill="#8e0000"/>
<rect x="111.9" y="624.28" width="5.2" height="7.48" fill="#fa8d87"/>
<rect x="118.8" y="624.28" width="28.8" height="7.48" fill="#c60000"/>
<rect x="111.9" y="631.76" width="5.2" height="7.48" fill="#fa8d87"/>
<rect x="118.8" y="631.76" width="28.8" height="7.48" fill="#c60000"/>
<path d="M111.9 429.8H117.1M118.8 429.8H147.6M111.9 437.28H117.1M118.8 437.28H147.6M111.9 444.76H117.1M118.8 444.76H147.6M111.9 452.24H117.1M118.8 452.24H147.6M111.9 459.72H117.1M118.8 459.72H147.6M111.9 467.2H117.1M118.8 467.2H147.6M111.9 474.68H117.1M118.8 474.68H147.6M111.9 482.16H117.1M118.8 482.16H147.6M111.9 489.64H117.1M118.8 489.64H147.6M111.9 497.12H117.1M118.8 497.12H147.6M111.9 504.6H117.1M118.8 504.6H147.6M111.9 512.08H117.1M118.8 512.08H147.6M111.9 519.56H117.1M118.8 519.56H147.6M111.9 527.04H117.1M118.8 527.04H147.6M111.9 534.52H117.1M118.8 534.52H147.6M111.9 542H117.1M118.8 542H147.6M111.9 549.48H117.1M118.8 549.48H147.6M111.9 556.96H117.1M118.8 556.96H147.6M111.9 564.44H117.1M118.8 564.44H147.6M111.9 571.92H117.1M118.8 571.92H147.6M111.9 579.4H117.1M118.8 579.4H147.6M111.9 586.88H117.1M118.8 586.88H147.6M111.9 594.36H117.1M118.8 594.36H147.6M111.9 601.84H117.1M118.8 601.84H147.6M111.9 609.32H117.1M118.8 609.32H147.6M111.9 616.8H117.1M118.8 616.8H147.6M111.9 624.28H117.1M118.8 624.28H147.6M111.9 631.76H117.1M118.8 631.76H147.6M111.9 639.24H117.1M118.8 639.24H147.6M111.9 429.8V639.24M117.1 429.8V639.24M118.8 429.8V639.24M147.6 429.8V639.24" fill="none" stroke="#8a8a8a" stroke-width="0.5"/>
<g font-size="6.72" font-family="Liberation Sans, sans-serif" fill="#000">
<text transform="matrix(0.87 0 0 1 149.5 435.89)">Salicylic acid</text>
<text transform="matrix(0.87 0 0 1 149.5 443.37)">Flavone</text>
<text transform="matrix(0.87 0 0 1 149.5 450.85)">Leucine</text>
<text transform="matrix(0.87 0 0 1 149.5 458.33)">Glucose</text>
<text transform="matrix(0.87 0 0 1 149.5 465.81)">L-1-glycero-3-phosphocholine</text>
<text transform="matrix(0.87 0 0 1 149.5 473.29)">Isoleucine</text>
<text transform="matrix(0.87 0 0 1 149.5 480.77)">L-dehydro-ascorbate</text>
<text transform="matrix(0.87 0 0 1 149.5 488.25)">Methionine</text>
<text transform="matrix(0.87 0 0 1 149.5 495.73)">Salicylic acid1</text>
<text transform="matrix(0.87 0 0 1 149.5 503.21)">1-Aminocyclopropane-1-carbo...</text>
<text transform="matrix(0.87 0 0 1 149.5 510.69)">Daidzein</text>
<text transform="matrix(0.87 0 0 1 149.5 518.17)">Genistein</text>
<text transform="matrix(0.87 0 0 1 149.5 525.65)">Citric acid1</text>
<text transform="matrix(0.87 0 0 1 149.5 533.13)">Xylitol</text>
<text transform="matrix(0.87 0 0 1 149.5 540.61)">Palatinose</text>
<text transform="matrix(0.87 0 0 1 149.5 548.09)">Asparagine</text>
<text transform="matrix(0.87 0 0 1 149.5 555.57)">Arachidonic acid</text>
<text transform="matrix(0.87 0 0 1 149.5 563.05)">Leucine1</text>
<text transform="matrix(0.87 0 0 1 149.5 570.53)">Palmitic acid</text>
<text transform="matrix(0.87 0 0 1 149.5 578.01)">Choline O-Sulfate</text>
<text transform="matrix(0.87 0 0 1 149.5 585.49)">Myo-Inositol</text>
<text transform="matrix(0.87 0 0 1 149.5 592.97)">Palmitic acid1</text>
<text transform="matrix(0.87 0 0 1 149.5 600.45)">Gentiobiose</text>
<text transform="matrix(0.87 0 0 1 149.5 607.93)">Raffinose</text>
<text transform="matrix(0.87 0 0 1 149.5 615.41)">Trehalose</text>
<text transform="matrix(0.87 0 0 1 149.5 622.89)">Citric acid</text>
<text transform="matrix(0.87 0 0 1 149.5 630.37)">Maltose</text>
<text transform="matrix(0.87 0 0 1 149.5 637.85)">Choline</text>
</g>
<g font-size="8.85" font-family="Liberation Sans, sans-serif" fill="#000">
<text transform="matrix(0.87 0 0 1 100.4 425.6)" font-weight="bold">Mangrove quantile</text>
</g>
<text transform="translate(112.3 640.6) rotate(90)" font-size="5.85" font-weight="bold" font-family="Liberation Sans, sans-serif">mode</text>
<text transform="translate(130.9 640.6) rotate(90)" font-size="5.85" font-family="Liberation Sans, sans-serif">quant</text>
<rect x="235.1" y="429.6" width="6" height="8.68" fill="#ff0000"/>
<rect x="235.1" y="438.23" width="6" height="8.68" fill="#c60000"/>
<rect x="235.1" y="446.86" width="6" height="8.68" fill="#8e0000"/>
<rect x="235.1" y="455.49" width="6" height="8.68" fill="#550000"/>
<rect x="235.1" y="464.12" width="6" height="8.68" fill="#1c0000"/>
<rect x="235.1" y="472.75" width="6" height="8.68" fill="#001c1c"/>
<rect x="235.1" y="481.38" width="6" height="8.68" fill="#005555"/>
<rect x="235.1" y="490.01" width="6" height="8.68" fill="#008e8e"/>
<rect x="235.1" y="498.64" width="6" height="8.68" fill="#00c6c6"/>
<rect x="235.1" y="507.27" width="6" height="8.68" fill="#00ffff"/>
<g font-size="6.78" font-family="Liberation Sans, sans-serif" fill="#000">
<text transform="matrix(0.87 0 0 1 243.5 432.04)">1</text>
<text transform="matrix(0.87 0 0 1 243.5 449.3)">0.8</text>
<text transform="matrix(0.87 0 0 1 243.5 466.56)">0.6</text>
<text transform="matrix(0.87 0 0 1 243.5 483.82)">0.4</text>
<text transform="matrix(0.87 0 0 1 243.5 501.08)">0.2</text>
<text transform="matrix(0.87 0 0 1 243.5 518.34)">0</text>
<text transform="matrix(0.87 0 0 1 253 434.64)" font-weight="bold">mode</text>
<rect x="253" y="436.4" width="7.9" height="7.9" fill="#1fcad6" stroke="#9a9a9a" stroke-width="0.4"/>
<rect x="253" y="444.3" width="7.9" height="7.9" fill="#fa8d87" stroke="#9a9a9a" stroke-width="0.4"/>
<text transform="matrix(0.87 0 0 1 263.1 442.79)">Negative</text>
<text transform="matrix(0.87 0 0 1 263.1 450.69)">Positive</text>
</g>
</svg>
</body></html>
